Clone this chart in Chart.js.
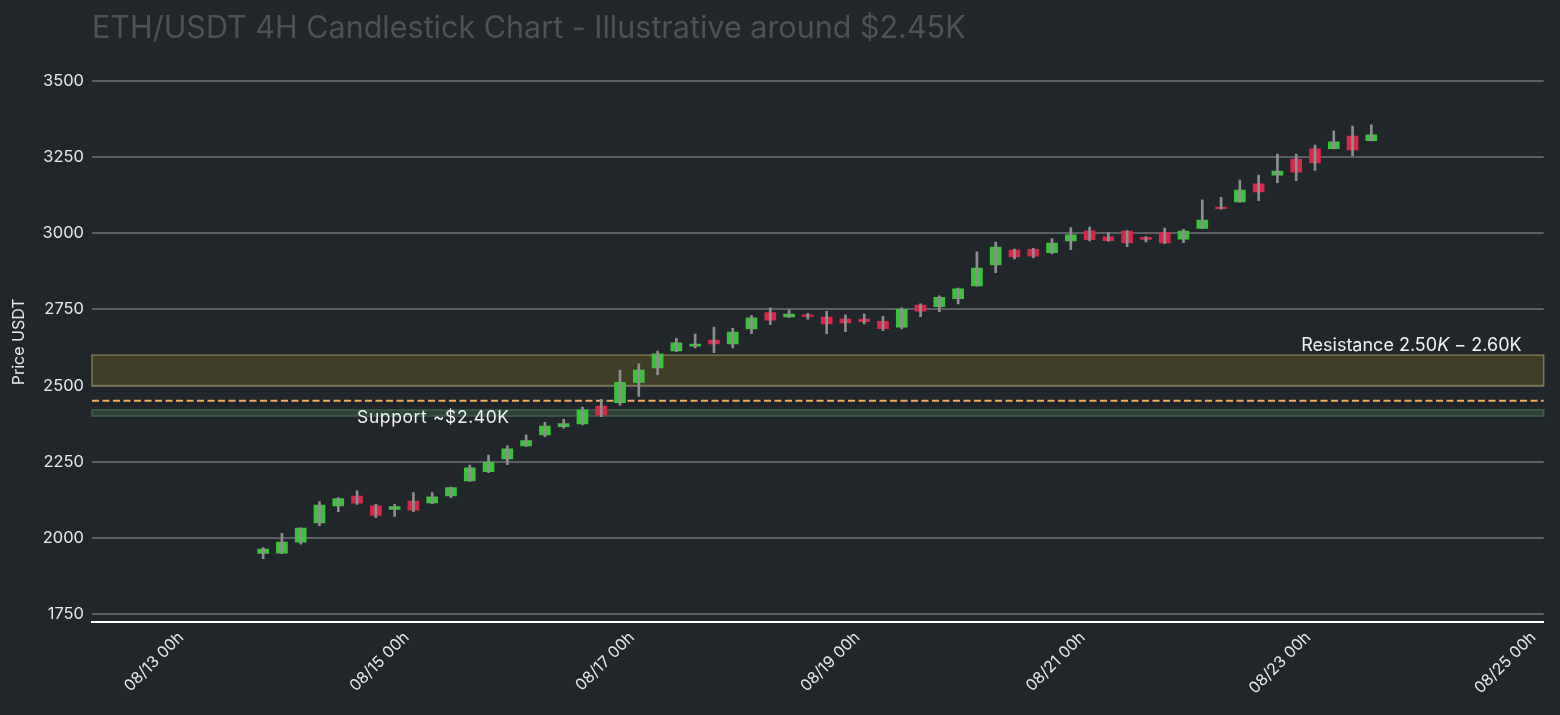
<!DOCTYPE html>
<html lang="en">
<head>
    <meta charset="UTF-8">
    <title>ETH/USDT 4H Candlestick</title>
    <script src="https://cdn.jsdelivr.net/npm/chart.js"></script>
    <style>
        html, body { margin: 0; padding: 0; background: #202629; }
    </style>
</head>
<body>
<canvas id="grafico" width="1560" height="715"></canvas>

<script>
    // hours since 08/13 00h, one candle every 4h
    const horas = [16, 20, 24, 28, 32, 36, 40, 44, 48, 52, 56, 60, 64, 68, 72, 76, 80, 84, 88, 92,
        96, 100, 104, 108, 112, 116, 120, 124, 128, 132, 136, 140, 144, 148, 152, 156, 160, 164, 168, 172,
        176, 180, 184, 188, 192, 196, 200, 204, 208, 212, 216, 220, 224, 228, 232, 236, 240, 244, 248, 252];

    const aberturas = [1949, 1950, 1986, 2049, 2105, 2137, 2105, 2093, 2121, 2115, 2138, 2187, 2217, 2259, 2302, 2338, 2365, 2374, 2433, 2444,
        2510, 2558, 2614, 2629, 2649, 2637, 2686, 2740, 2725, 2732, 2725, 2719, 2718, 2711, 2692, 2764, 2759, 2785, 2827, 2896,
        2945, 2947, 2936, 2975, 3008, 2988, 3007, 2987, 3003, 2981, 3016, 3086, 3103, 3162, 3191, 3244, 3277, 3278, 3319, 3304];
    const maximas = [1968, 2015, 2033, 2119, 2132, 2154, 2110, 2110, 2149, 2149, 2167, 2239, 2272, 2302, 2338, 2379, 2389, 2429, 2455, 2550,
        2571, 2613, 2655, 2669, 2692, 2688, 2731, 2755, 2749, 2737, 2744, 2732, 2735, 2727, 2755, 2768, 2795, 2820, 2939, 2971,
        2948, 2951, 2983, 3019, 3020, 3003, 3009, 2989, 3017, 3013, 3110, 3118, 3175, 3191, 3260, 3260, 3290, 3336, 3352, 3356];
    const minimas = [1932, 1948, 1979, 2040, 2086, 2110, 2066, 2070, 2086, 2112, 2132, 2185, 2214, 2240, 2300, 2332, 2360, 2371, 2398, 2436,
        2464, 2536, 2611, 2624, 2608, 2624, 2670, 2700, 2724, 2718, 2670, 2677, 2702, 2680, 2686, 2726, 2743, 2768, 2826, 2871,
        2916, 2920, 2932, 2946, 2975, 2974, 2956, 2972, 2966, 2969, 3015, 3079, 3102, 3107, 3166, 3173, 3206, 3277, 3255, 3303];
    const fechamentos = [1963, 1986, 2032, 2108, 2129, 2114, 2074, 2103, 2091, 2135, 2165, 2230, 2249, 2292, 2319, 2367, 2375, 2420, 2403, 2511,
        2551, 2604, 2640, 2636, 2637, 2676, 2722, 2715, 2735, 2727, 2702, 2706, 2710, 2687, 2750, 2744, 2790, 2818, 2886, 2955,
        2922, 2925, 2968, 2995, 2979, 2976, 2968, 2980, 2968, 3007, 3043, 3081, 3142, 3136, 3204, 3201, 3231, 3300, 3274, 3323];

    const xTickHoras = [0, 48, 96, 144, 192, 240, 288];
    const xTickLabels = ['08/13 00h', '08/15 00h', '08/17 00h', '08/19 00h', '08/21 00h', '08/23 00h', '08/25 00h'];
    const yTicks = [1750, 2000, 2250, 2500, 2750, 3000, 3250, 3500];

    const resistencia = [2500, 2600];
    const suporte = [2400, 2420];
    const linhaAtual = 2450;

    const corAlta = '#3ec23e';
    const corBaixa = '#d5284b';
    const corPavio = '#8e8e8e';
    const fonte = 'Inter';

    const cores = aberturas.map((o, i) => fechamentos[i] >= o ? corAlta : corBaixa);

    // bands, dashed line and the two annotation texts
    const faixas = {
        id: 'faixas',
        beforeDatasetsDraw(chart) {
            const { ctx, chartArea: a, scales: { y } } = chart;
            const w = a.right - a.left;
            ctx.save();

            let topo = y.getPixelForValue(resistencia[1]);
            let base = y.getPixelForValue(resistencia[0]);
            ctx.fillStyle = '#403e27';
            ctx.fillRect(a.left, topo, w, base - topo);
            ctx.strokeStyle = '#7a7852';
            ctx.lineWidth = 1.5;
            ctx.strokeRect(a.left, topo, w, base - topo);

            topo = y.getPixelForValue(suporte[1]);
            base = y.getPixelForValue(suporte[0]);
            ctx.fillStyle = '#2d4338';
            ctx.fillRect(a.left, topo, w, base - topo);
            ctx.strokeStyle = '#3f5f4d';
            ctx.strokeRect(a.left, topo, w, base - topo);

            const yl = y.getPixelForValue(linhaAtual);
            ctx.strokeStyle = '#f0aa62';
            ctx.lineWidth = 2;
            ctx.setLineDash([7, 3.5]);
            ctx.beginPath();
            ctx.moveTo(a.left, yl);
            ctx.lineTo(a.right, yl);
            ctx.stroke();
            ctx.restore();
        },
        afterDatasetsDraw(chart) {
            const { ctx, scales: { x, y } } = chart;
            ctx.save();
            ctx.fillStyle = '#f2f2f2';

            // support label
            ctx.font = '17.5px ' + fonte;
            ctx.letterSpacing = '0.6px';
            ctx.textBaseline = 'alphabetic';
            ctx.textAlign = 'left';
            ctx.fillText('Support ~$2.40K', x.getPixelForValue(36), y.getPixelForValue(2377));
            ctx.letterSpacing = '0px';

            // resistance label (K in italic like the original math text)
            const partes = [
                ['Resistance 2.50', 'normal'],
                ['K', 'italic'],
                [' \u2212 2.60K', 'normal']
            ];
            let total = 0;
            partes.forEach(p => {
                ctx.font = p[1] + ' 18px ' + fonte;
                total += ctx.measureText(p[0]).width;
            });
            let px = x.getPixelForValue(284) - total;
            const py = y.getPixelForValue(2613);
            partes.forEach(p => {
                ctx.font = p[1] + ' 18px ' + fonte;
                ctx.fillText(p[0], px, py);
                px += ctx.measureText(p[0]).width;
            });
            ctx.restore();
        }
    };

    const config = {
        type: 'bar',
        data: {
            datasets: [
                {
                    label: 'Pavio',
                    data: horas.map((h, i) => ({ x: h, y: [minimas[i], maximas[i]] })),
                    backgroundColor: corPavio,
                    barThickness: 2,
                    grouped: false,
                    order: 1
                },
                {
                    label: 'Corpo',
                    data: horas.map((h, i) => ({ x: h, y: [aberturas[i], fechamentos[i]] })),
                    backgroundColor: cores,
                    barThickness: 11,
                    grouped: false,
                    order: 2
                }
            ]
        },
        options: {
            responsive: false,
            animation: false,
            layout: { padding: { left: 0, right: 15, top: 0, bottom: 0 } },
            plugins: {
                legend: { display: false },
                tooltip: { enabled: false },
                title: {
                    display: true,
                    text: 'ETH/USDT 4H Candlestick Chart - Illustrative around $2.45K',
                    align: 'start',
                    fullSize: false,
                    color: '#4c5256',
                    font: { family: fonte, size: 30.5, weight: 'normal' },
                    padding: { top: 11, bottom: 14 }
                }
            },
            scales: {
                x: {
                    type: 'linear',
                    min: -20.45,
                    max: 288.7,
                    offset: false,
                    grid: { display: false, drawTicks: false, offset: false },
                    border: { display: true, color: '#ffffff', width: 2 },
                    afterBuildTicks: s => { s.ticks = xTickHoras.map(v => ({ value: v })); },
                    afterFit: s => { s.height = 93; },
                    ticks: {
                        autoSkip: false,
                        maxRotation: 45,
                        minRotation: 45,
                        padding: 6,
                        labelOffset: -7,
                        color: '#e8e8e8',
                        font: { family: fonte, size: 16 },
                        callback: v => xTickLabels[xTickHoras.indexOf(v)]
                    }
                },
                y: {
                    min: 1723.7,
                    max: 3563.7,
                    grid: { color: '#5c6064', lineWidth: 2, drawTicks: false },
                    border: { display: false },
                    afterBuildTicks: s => { s.ticks = yTicks.map(v => ({ value: v })); },
                    afterFit: s => { s.width = 92; },
                    ticks: {
                        padding: 8,
                        color: '#e8e8e8',
                        font: { family: fonte, size: 16.5 },
                        callback: v => String(v)
                    },
                    title: {
                        display: true,
                        text: 'Price USDT',
                        color: '#e8e8e8',
                        font: { family: fonte, size: 16 },
                        padding: { top: 10, bottom: 0 }
                    }
                }
            }
        },
        plugins: [faixas]
    };

    new Chart(document.getElementById('grafico'), config);
</script>
</body>
</html>
